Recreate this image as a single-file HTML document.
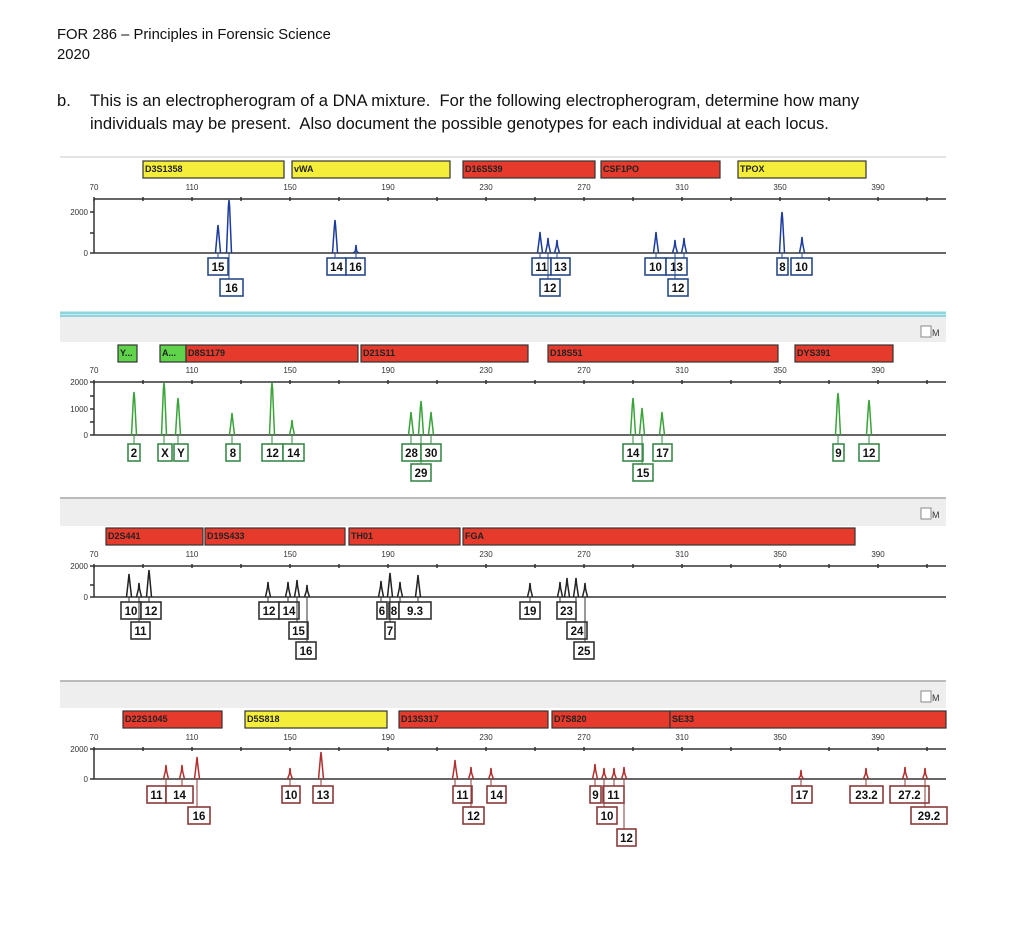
<!DOCTYPE html>
<html><head><meta charset="utf-8"><style>
body{margin:0;background:#fff;width:1024px;height:934px;overflow:hidden;font-family:"Liberation Sans",sans-serif}
.t{position:absolute;color:#111;white-space:nowrap}
</style></head><body>
<div class="t" style="left:57px;top:27px;font-size:14.8px">FOR 286 – Principles in Forensic Science</div>
<div class="t" style="left:57px;top:47px;font-size:14.8px">2020</div>
<div class="t" style="left:57px;top:91px;font-size:16.6px">b.</div>
<div class="t" style="left:90px;top:91px;font-size:16.6px">This is an electropherogram of a DNA mixture.&nbsp; For the following electropherogram, determine how many</div>
<div class="t" style="left:90px;top:114px;font-size:16.6px">individuals may be present.&nbsp; Also document the possible genotypes for each individual at each locus.</div>
<svg id="s" width="1024" height="934" style="position:absolute;left:0;top:0" font-family="Liberation Sans,sans-serif"></svg>
<script>
var s=document.getElementById('s'),h='';
function X(bp){return 94+(bp-70)*2.45;}
function rect(x,y,w,hh,f,st,sw){h+='<rect x="'+x+'" y="'+y+'" width="'+w+'" height="'+hh+'" fill="'+f+'" stroke="'+(st||'none')+'" stroke-width="'+(sw||1)+'"/>';}
function line(a,b,c,d,col,w){h+='<line x1="'+a+'" y1="'+b+'" x2="'+c+'" y2="'+d+'" stroke="'+col+'" stroke-width="'+(w||1)+'"/>';}
function txt(x,y,t,sz,w,a,col){h+='<text x="'+x+'" y="'+y+'" font-size="'+sz+'" font-weight="'+(w||'normal')+'" text-anchor="'+(a||'start')+'" fill="'+(col||'#222')+'">'+t+'</text>';}
function panel(p){
 if(p.band){rect(60,p.band[0],886,p.band[1]-p.band[0],'#eeeeee');line(60,p.band[0],946,p.band[0],p.bl||'#bbb',2);
  rect(921,p.band[0]+10,10,11,'#fff','#888');txt(932,p.band[0]+20,'M',9,'normal','start','#333');}
 p.bars.forEach(function(b){rect(b[0],p.by,b[1]-b[0],17,b[3],'#333',1.2);txt(b[0]+2,p.by+11,b[2],9,'bold','start','#222');});
 [70,110,150,190,230,270,310,350,390].forEach(function(v){txt(X(v),p.ay-9,v,8,'normal','middle','#333');});
 line(94,p.ay,946,p.ay,'#333',1.5);
 for(var v=70;v<=410;v+=20){line(X(v),p.ay-2,X(v),p.ay+2,'#333',1.5);}
 line(94,p.ay,94,p.base,'#333',1.5);line(94,p.base,946,p.base,'#333',1.5);
 p.yl.forEach(function(y){line(90,y[0],94,y[0],'#333',1.5);txt(88,y[0]+3,y[1],8,'normal','end','#333');});
 p.pk.forEach(function(k){h+='<path d="M'+(k[0]-2.5)+' '+p.base+' L'+(k[0]-0.6)+' '+(k[1]+6)+' L'+k[0]+' '+k[1]+' L'+(k[0]+0.6)+' '+(k[1]+6)+' L'+(k[0]+2.5)+' '+p.base+'" fill="none" stroke="'+p.col+'" stroke-width="1.5"/>';});
 p.lb.forEach(function(l){var y=p.rows[l[2]];line(l[3]||(l[0]+l[1])/2,p.base,l[3]||(l[0]+l[1])/2,y,p.lc,1);
  rect(l[0],y,l[1]-l[0],17,'#fff',p.lc,1.6);txt((l[0]+l[1])/2,y+13,l[4],11.5,'bold','middle','#111');});
}
line(60,157,946,157,'#e3e3e3',2);
panel({by:161,ay:199,base:253,col:'#1c3b9c',lc:'#2a4a8a',
 yl:[[212,'2000'],[233,''],[253,'0']],rows:[258,279],
 bars:[[143,284,'D3S1358','#f4ee3a'],[292,450,'vWA','#f4ee3a'],[463,595,'D16S539','#e53a2c'],[601,720,'CSF1PO','#e53a2c'],[738,866,'TPOX','#f4ee3a']],
 pk:[[218,225],[229,200],[335,220],[356,245],[540,232],[548,238],[557,240],[656,232],[675,240],[684,238],[782,212],[802,237]],
 lb:[[208,228,0,218,'15'],[220,243,1,229,'16'],[327,346,0,335,'14'],[346,365,0,356,'16'],[532,551,0,540,'11'],[551,570,0,557,'13'],[540,560,1,548,'12'],[645,666,0,656,'10'],[666,687,0,684,'13'],[668,688,1,675,'12'],[777,788,0,782,'8'],[791,812,0,802,'10']]});
line(60,313,946,313,'#8fd6dc',3);
panel({band:[316,342],bl:'#8fd6dc',by:345,ay:382,base:435,col:'#3aa33a',lc:'#3a8a4a',
 yl:[[382,'2000'],[396,''],[409,'1000'],[422,''],[435,'0']],rows:[444,464],
 bars:[[118,137,'Y...','#5fd34a'],[160,186,'A...','#5fd34a'],[186,358,'D8S1179','#e53a2c'],[361,528,'D21S11','#e53a2c'],[548,778,'D18S51','#e53a2c'],[795,893,'DYS391','#e53a2c']],
 pk:[[134,392],[164,383],[178,398],[232,413],[272,383],[292,420],[411,412],[421,401],[431,412],[633,398],[642,408],[662,412],[838,393],[869,400]],
 lb:[[128,140,0,134,'2'],[158,172,0,164,'X'],[174,188,0,178,'Y'],[226,240,0,232,'8'],[262,283,0,272,'12'],[283,304,0,292,'14'],[402,421,0,411,'28'],[421,441,0,431,'30'],[411,431,1,421,'29'],[623,643,0,633,'14'],[653,672,0,662,'17'],[633,653,1,642,'15'],[833,844,0,838,'9'],[859,879,0,869,'12']]});
panel({band:[498,526],by:528,ay:566,base:597,col:'#222',lc:'#333',
 yl:[[566,'2000'],[585,''],[597,'0']],rows:[602,622,642],
 bars:[[106,203,'D2S441','#e53a2c'],[205,345,'D19S433','#e53a2c'],[349,460,'TH01','#e53a2c'],[463,855,'FGA','#e53a2c']],
 pk:[[129,574],[139,583],[149,570],[268,582],[288,582],[297,580],[307,585],[381,581],[390,573],[400,582],[418,575],[530,583],[560,582],[567,578],[576,578],[585,583]],
 lb:[[121,141,0,129,'10'],[141,161,0,149,'12'],[131,150,1,139,'11'],[259,279,0,268,'12'],[279,299,0,288,'14'],[289,308,1,297,'15'],[296,316,2,307,'16'],[377,387,0,381,'6'],[389,399,0,400,'8'],[399,431,0,418,'9.3'],[385,395,1,390,'7'],[520,540,0,530,'19'],[557,576,0,560,'23'],[567,587,1,576,'24'],[574,594,2,585,'25']]});
panel({band:[681,708],by:711,ay:749,base:779,col:'#b03030',lc:'#8a3a3a',
 yl:[[749,'2000'],[779,'0']],rows:[786,807,829],
 bars:[[123,222,'D22S1045','#e53a2c'],[245,387,'D5S818','#f4ee3a'],[399,548,'D13S317','#e53a2c'],[552,670,'D7S820','#e53a2c'],[670,946,'SE33','#e53a2c']],
 pk:[[166,765],[182,765],[197,757],[290,768],[321,752],[455,760],[471,767],[491,768],[595,764],[604,768],[614,768],[624,767],[801,770],[866,768],[905,767],[925,768]],
 lb:[[147,166,0,166,'11'],[166,193,0,182,'14'],[188,210,1,197,'16'],[282,300,0,290,'10'],[313,333,0,321,'13'],[453,472,0,455,'11'],[487,506,0,491,'14'],[463,484,1,471,'12'],[590,601,0,595,'9'],[603,624,0,614,'11'],[597,617,1,604,'10'],[617,636,2,624,'12'],[792,812,0,801,'17'],[850,883,0,866,'23.2'],[890,929,0,905,'27.2'],[911,947,1,925,'29.2']]});
s.innerHTML=h;
</script>
</body></html>
